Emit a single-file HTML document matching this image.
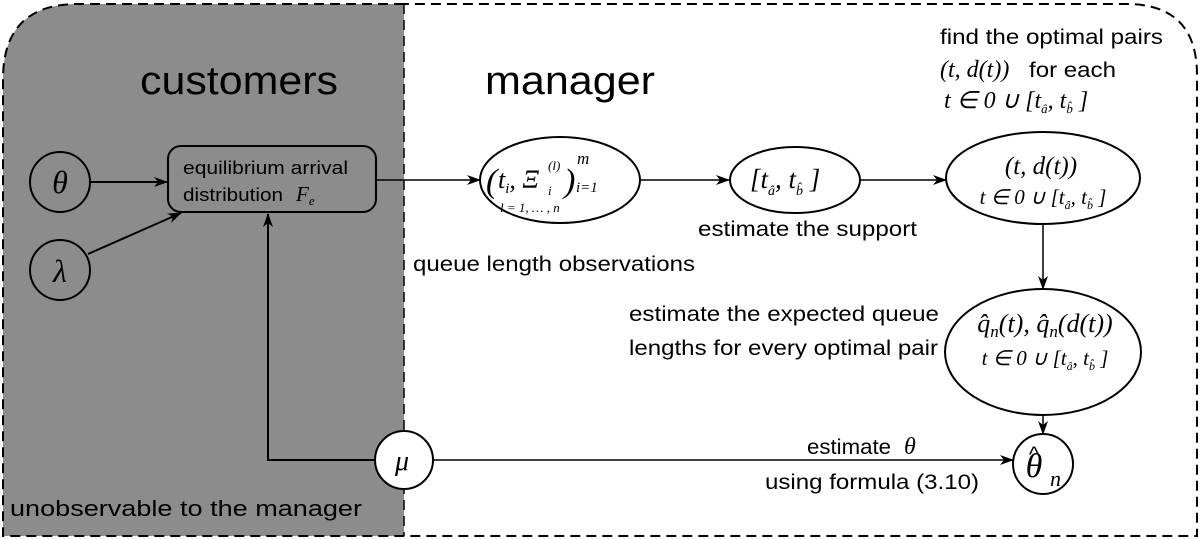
<!DOCTYPE html>
<html><head><meta charset="utf-8"><style>
html,body{margin:0;padding:0;background:#fff;width:1200px;height:539px;overflow:hidden}
svg{display:block}
.s{font-family:"Liberation Sans",sans-serif;fill:#000}
.m{font-family:"Liberation Serif",serif;font-style:italic;fill:#000}
</style></head><body>
<svg width="1200" height="539" viewBox="0 0 1200 539" xmlns="http://www.w3.org/2000/svg">
<defs><marker id="a" markerWidth="14" markerHeight="10" refX="13" refY="5" orient="auto" markerUnits="userSpaceOnUse"><path d="M0,0 L14,5 L0,10 L4,5 Z" fill="#000"/></marker></defs>
<path d="M404,4 L78,4 Q3,4 3,79 L3,536 L404,536 Z" fill="#8c8c8c"/>
<path d="M404,4 L78,4 Q3,4 3,79 L3,536 L1197,536 L1197,75 Q1197,4 1126,4 Z" fill="none" stroke="#000" stroke-width="2" stroke-dasharray="10,6"/>
<line x1="404" y1="4" x2="404" y2="536" stroke="#000" stroke-width="1.5" stroke-dasharray="10,6"/>
<text class="s" x="140" y="94" font-size="40" textLength="198" lengthAdjust="spacingAndGlyphs">customers</text>
<text class="s" x="485" y="94" font-size="40" textLength="170" lengthAdjust="spacingAndGlyphs">manager</text>
<text class="s" x="10" y="516" font-size="22" textLength="352" lengthAdjust="spacingAndGlyphs">unobservable to the manager</text>
<!-- connectors -->
<line x1="90" y1="182" x2="167" y2="182" stroke="#000" stroke-width="2" marker-end="url(#a)"/>
<line x1="88" y1="254" x2="181" y2="213" stroke="#000" stroke-width="2" marker-end="url(#a)"/>
<polyline points="376,460 268,460 268,214" fill="none" stroke="#000" stroke-width="2" marker-end="url(#a)"/>
<line x1="376" y1="180" x2="480" y2="180" stroke="#000" stroke-width="1.5" marker-end="url(#a)"/>
<line x1="640" y1="180" x2="729" y2="180" stroke="#000" stroke-width="1.5" marker-end="url(#a)"/>
<line x1="860" y1="180" x2="946" y2="180" stroke="#000" stroke-width="1.5" marker-end="url(#a)"/>
<line x1="1043" y1="225" x2="1043" y2="289" stroke="#000" stroke-width="1.5" marker-end="url(#a)"/>
<line x1="1043" y1="414" x2="1043" y2="434" stroke="#000" stroke-width="1.5" marker-end="url(#a)"/>
<line x1="434" y1="460" x2="1013" y2="460" stroke="#000" stroke-width="1.5" marker-end="url(#a)"/>
<!-- nodes -->
<circle cx="60" cy="182" r="30" fill="#8c8c8c" stroke="#000" stroke-width="2"/>
<text class="m" x="60" y="193" font-size="32" text-anchor="middle">θ</text>
<circle cx="60" cy="270" r="30" fill="#8c8c8c" stroke="#000" stroke-width="2"/>
<text class="m" x="60" y="282" font-size="32" text-anchor="middle">λ</text>
<rect x="168" y="146" width="208" height="66" rx="13" fill="#8c8c8c" stroke="#000" stroke-width="2"/>
<text class="s" x="183" y="174" font-size="18" textLength="165" lengthAdjust="spacingAndGlyphs">equilibrium arrival</text>
<text class="s" x="183" y="201" font-size="18" textLength="100" lengthAdjust="spacingAndGlyphs">distribution</text>
<text class="m" x="296" y="201" font-size="21">F<tspan font-size="13" dy="4">e</tspan></text>
<circle cx="404" cy="460" r="29" fill="#fff" stroke="#000" stroke-width="2"/>
<text class="m" x="402" y="470" font-size="28" text-anchor="middle">μ</text>
<ellipse cx="560" cy="180" rx="80" ry="43" fill="#fff" stroke="#000" stroke-width="2"/>
<text class="m" x="486" y="192" font-size="34" font-style="normal">(</text>
<text class="m" x="498" y="188" font-size="26">t<tspan font-size="15" dy="5">i</tspan><tspan dy="-5">, Ξ</tspan></text>
<text class="m" x="548" y="170" font-size="13">(l)</text>
<text class="m" x="548" y="195" font-size="13">i</text>
<text class="m" x="564" y="192" font-size="34" font-style="normal">)</text>
<text class="m" x="577" y="164" font-size="17">m</text>
<text class="m" x="576" y="192" font-size="15">i=1</text>
<text class="m" x="500" y="212" font-size="13">l = 1, … , n</text>
<ellipse cx="795" cy="180" rx="65" ry="33" fill="#fff" stroke="#000" stroke-width="2"/>
<text class="m" x="750" y="188" font-size="27">[t<tspan font-size="14" dy="7">â</tspan><tspan dy="-7" font-size="27">, t</tspan><tspan font-size="14" dy="7">b̂</tspan><tspan font-size="27" dy="-7"> ]</tspan></text>
<text class="s" x="698" y="236" font-size="21" textLength="219" lengthAdjust="spacingAndGlyphs">estimate the support</text>
<text class="s" x="413" y="271" font-size="21" textLength="282" lengthAdjust="spacingAndGlyphs">queue length observations</text>
<ellipse cx="1043" cy="178" rx="97" ry="46" fill="#fff" stroke="#000" stroke-width="2"/>
<text class="m" x="1041" y="174" font-size="25" text-anchor="middle">(t, d(t))</text>
<text class="m" x="1043" y="204" font-size="21" text-anchor="middle">t ∈ 0 ∪ [t<tspan font-size="12" dy="5">â</tspan><tspan font-size="21" dy="-5">, t</tspan><tspan font-size="12" dy="5">b̂</tspan><tspan font-size="21" dy="-5"> ]</tspan></text>
<text class="s" x="940" y="44" font-size="21" textLength="223" lengthAdjust="spacingAndGlyphs">find the optimal pairs</text>
<text class="m" x="940" y="77" font-size="24">(t, d(t))</text><text class="s" x="1029" y="77" font-size="21" textLength="87" lengthAdjust="spacingAndGlyphs">for each</text>
<text class="m" x="944" y="108" font-size="24">t ∈ 0 ∪ [t<tspan font-size="13" dy="5">â</tspan><tspan font-size="24" dy="-5">, t</tspan><tspan font-size="13" dy="5">b̂</tspan><tspan font-size="24" dy="-5"> ]</tspan></text>
<ellipse cx="1043" cy="352" rx="98" ry="63" fill="#fff" stroke="#000" stroke-width="2"/>
<text class="m" x="1045" y="332" font-size="26" text-anchor="middle">q̂<tspan font-size="17" dy="5">n</tspan><tspan dy="-5">(t), q̂</tspan><tspan font-size="17" dy="5">n</tspan><tspan dy="-5">(d(t))</tspan></text>
<text class="m" x="1045" y="365" font-size="21" text-anchor="middle">t ∈ 0 ∪ [t<tspan font-size="12" dy="5">â</tspan><tspan font-size="21" dy="-5">, t</tspan><tspan font-size="12" dy="5">b̂</tspan><tspan font-size="21" dy="-5"> ]</tspan></text>
<text class="s" x="629" y="321" font-size="21" textLength="310" lengthAdjust="spacingAndGlyphs">estimate the expected queue</text>
<text class="s" x="629" y="355" font-size="21" textLength="309" lengthAdjust="spacingAndGlyphs">lengths for every optimal pair</text>
<circle cx="1043" cy="464" r="30" fill="#fff" stroke="#000" stroke-width="2"/>
<text class="m" x="1034" y="477" font-size="34" text-anchor="middle">θ</text>
<text class="s" x="1034" y="462" font-size="22" text-anchor="middle">^</text>
<text class="m" x="1050" y="486" font-size="22">n</text>
<text class="s" x="807" y="454" font-size="21" textLength="84" lengthAdjust="spacingAndGlyphs">estimate</text><text class="m" x="904" y="454" font-size="24">θ</text>
<text class="s" x="765" y="489" font-size="21" textLength="214" lengthAdjust="spacingAndGlyphs">using formula (3.10)</text>
</svg>
</body></html>
